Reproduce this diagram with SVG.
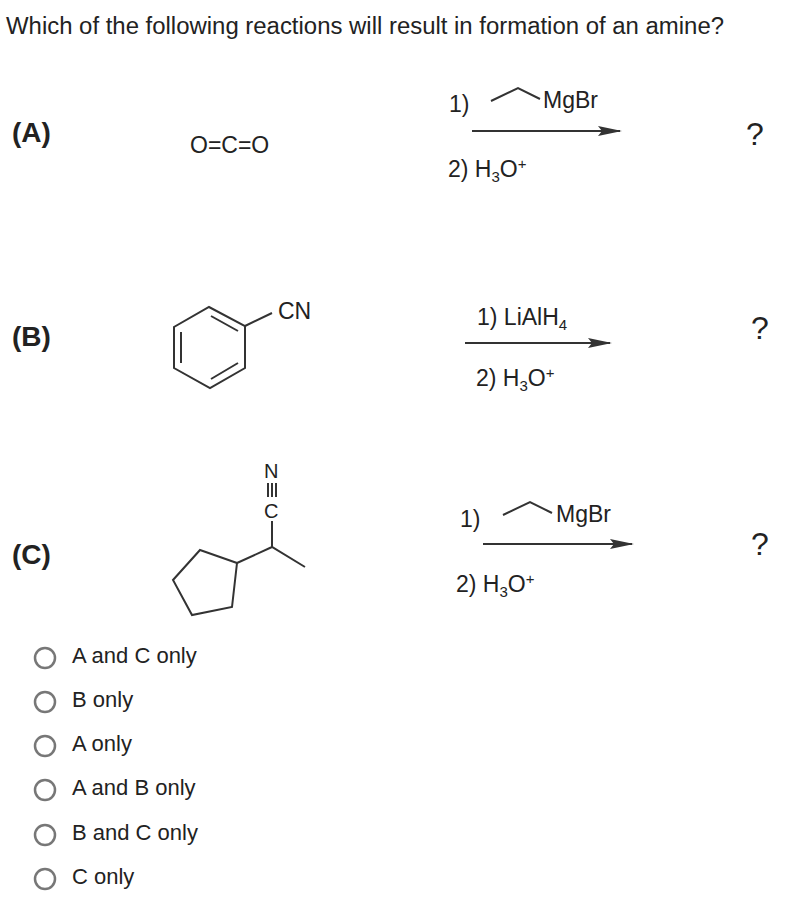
<svg xmlns="http://www.w3.org/2000/svg" width="796" height="920" viewBox="0 0 796 920">
<style>
text{font-family:"Liberation Sans",Arial,sans-serif;fill:#222}
.b{stroke:#333;stroke-width:2;fill:none}
.t{font-size:23px}
.lab{font-size:28px;font-weight:bold}
.q{font-size:32px}
.c{fill:none;stroke:#777;stroke-width:2.5}
.o{font-size:22px}
</style>
<defs>
<marker id="a2" markerWidth="24" markerHeight="10" refX="22" refY="5" orient="auto" markerUnits="userSpaceOnUse"><path d="M0,0 L24,5 L0,10 L4,5 Z" fill="#333"/></marker></defs>
<rect width="796" height="920" fill="#fff"/>
<text x="6" y="34" font-size="23" textLength="718" lengthAdjust="spacingAndGlyphs">Which of the following reactions will result in formation of an amine?</text>
<g id="A"><text class="lab" x="12" y="142">(A)</text><text class="t" x="190" y="153">O=C=O</text></g>
<g id="B"><text class="lab" x="12" y="346">(B)</text>
<polygon class="b" points="209,307 245,326 245,368 210,388 174,368 174,327"/>
<path class="b" d="M211,316 L238,331 M238,363 L211,379 M181,332 L181,363 M245,326 L272,313"/>
<text class="t" x="278" y="319">CN</text></g>
<g id="C"><text class="lab" x="12" y="564">(C)</text>
<polygon class="b" points="200,550 237,563 232,607 192,615 173,580"/>
<path class="b" d="M237,563 L272,547 L305,567 M272,547 L272,521 M268,483 L268,497 M272,483 L272,497 M276,483 L276,497"/>
<text x="264" y="518" font-size="20">C</text><text x="264" y="478" font-size="20">N</text></g>
<g id="rA"><text class="t" x="449" y="112">1)</text><path class="b" d="M491,101 L518,88 L540,99"/><text class="t" x="543" y="108">MgBr</text>
<text class="t" x="448" y="177">2) H<tspan font-size="15" dy="5">3</tspan><tspan dy="-5">O</tspan><tspan font-size="15" dy="-8">+</tspan></text>
<text class="q" x="746" y="145">?</text></g>
<g id="rB"><text class="t" x="477" y="325">1) LiAlH<tspan font-size="15" dy="5">4</tspan></text>
<text class="t" x="476" y="386">2) H<tspan font-size="15" dy="5">3</tspan><tspan dy="-5">O</tspan><tspan font-size="15" dy="-8">+</tspan></text>
<text class="q" x="751" y="339">?</text></g>
<g id="rC"><text class="t" x="460" y="527">1)</text><path class="b" d="M503,515 L530,502 L552,513"/><text class="t" x="556" y="522">MgBr</text>
<text class="t" x="456" y="592">2) H<tspan font-size="15" dy="5">3</tspan><tspan dy="-5">O</tspan><tspan font-size="15" dy="-8">+</tspan></text>
<text class="q" x="751" y="555">?</text></g>
<g id="connectors">
<line class="b" x1="472" y1="131" x2="620" y2="131" marker-end="url(#a2)"/>
<line class="b" x1="465" y1="343" x2="610" y2="343" marker-end="url(#a2)"/>
<line class="b" x1="483" y1="544" x2="632" y2="544" marker-end="url(#a2)"/>
</g>
<g id="options">
<circle class="c" cx="45" cy="658" r="10"/><text class="o" x="72" y="663">A and C only</text>
<circle class="c" cx="45" cy="702" r="10"/><text class="o" x="72" y="707">B only</text>
<circle class="c" cx="45" cy="746" r="10"/><text class="o" x="72" y="751">A only</text>
<circle class="c" cx="45" cy="790" r="10"/><text class="o" x="72" y="795">A and B only</text>
<circle class="c" cx="45" cy="835" r="10"/><text class="o" x="72" y="840">B and C only</text>
<circle class="c" cx="45" cy="879" r="10"/><text class="o" x="72" y="884">C only</text>
</g>
</svg>
